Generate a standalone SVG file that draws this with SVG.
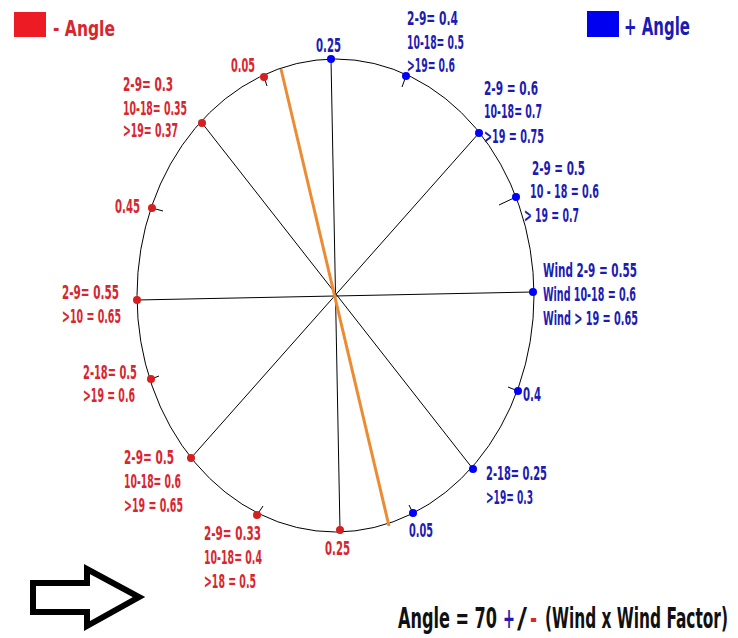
<svg xmlns="http://www.w3.org/2000/svg" width="738" height="638" viewBox="0 0 738 638">
<style>
text{font-family:"Liberation Sans Narrow","DejaVu Sans Condensed","Liberation Sans",sans-serif;font-weight:bold;font-size:19px}
.r{fill:#d8262e}.b{fill:#1c1cb4}.k{fill:#111}
.f{font-size:29px}
.rd{fill:#d42020}.bd{fill:#0000ff}
.sp{stroke:#000;stroke-width:1;fill:none}
.tk{stroke:#000;stroke-width:1}
</style>
<rect width="738" height="638" fill="#fff"/>
<g id="legend-minus"><rect x="14" y="12" width="32" height="25" fill="#ed1c24"/><text class="r" x="53" y="36" style="font-size:22px" textLength="62" lengthAdjust="spacingAndGlyphs">- Angle</text></g>
<g id="legend-plus"><rect x="587" y="11" width="32" height="26" fill="#0000f0"/><text class="b" x="624" y="35" style="font-size:25px" textLength="66" lengthAdjust="spacingAndGlyphs">+ Angle</text></g>
<ellipse cx="335.5" cy="295.5" rx="198.5" ry="236.5" class="sp"/>
<g id="connectors">
<line class="sp" x1="331" y1="59" x2="340" y2="530"/>
<line class="sp" x1="137" y1="300" x2="533" y2="292"/>
<line class="sp" x1="202" y1="123" x2="473" y2="469"/>
<line class="sp" x1="479" y1="133" x2="191" y2="458"/>
<line x1="281" y1="69" x2="389" y2="526" stroke="#ec8c32" stroke-width="3"/>
<line class="tk" x1="264" y1="77" x2="267" y2="86"/>
<line class="tk" x1="406" y1="76" x2="402" y2="87"/>
<line class="tk" x1="516" y1="197" x2="499" y2="205"/>
<line class="tk" x1="518" y1="391" x2="508" y2="387"/>
<line class="tk" x1="152" y1="208" x2="163" y2="211"/>
<line class="tk" x1="151" y1="379" x2="159" y2="376"/>
<line class="tk" x1="257" y1="515" x2="263" y2="506"/>
<line class="tk" x1="413" y1="513" x2="409" y2="505"/>
</g>
<g id="n-top"><circle class="bd" cx="331" cy="59" r="4"/><text class="b" x="316" y="52" textLength="25" lengthAdjust="spacingAndGlyphs">0.25</text></g>
<g id="n-r005"><circle class="rd" cx="264" cy="77" r="4"/><text class="r" x="231" y="72" textLength="24" lengthAdjust="spacingAndGlyphs">0.05</text></g>
<g id="n-r03"><circle class="rd" cx="202" cy="123" r="4"/>
<text class="r" x="123" y="91" textLength="50" lengthAdjust="spacingAndGlyphs">2-9= 0.3</text>
<text class="r" x="123" y="115" textLength="64" lengthAdjust="spacingAndGlyphs">10-18= 0.35</text>
<text class="r" x="123" y="137" textLength="55" lengthAdjust="spacingAndGlyphs">&gt;19= 0.37</text></g>
<g id="n-b04"><circle class="bd" cx="406" cy="76" r="4"/>
<text class="b" x="407" y="25" textLength="51" lengthAdjust="spacingAndGlyphs">2-9= 0.4</text>
<text class="b" x="407" y="49" textLength="57" lengthAdjust="spacingAndGlyphs">10-18= 0.5</text>
<text class="b" x="407" y="72" textLength="48" lengthAdjust="spacingAndGlyphs">&gt;19= 0.6</text></g>
<g id="n-b06"><circle class="bd" cx="479" cy="133" r="4"/>
<text class="b" x="484" y="95" textLength="54" lengthAdjust="spacingAndGlyphs">2-9 = 0.6</text>
<text class="b" x="484" y="118" textLength="58" lengthAdjust="spacingAndGlyphs">10-18= 0.7</text>
<text class="b" x="484" y="143" textLength="60" lengthAdjust="spacingAndGlyphs">&gt;19 = 0.75</text></g>
<g id="n-b05"><circle class="bd" cx="516" cy="197" r="4"/>
<text class="b" x="532" y="175" textLength="53" lengthAdjust="spacingAndGlyphs">2-9 = 0.5</text>
<text class="b" x="530" y="198" textLength="69" lengthAdjust="spacingAndGlyphs">10 - 18 = 0.6</text>
<text class="b" x="524" y="222" textLength="55" lengthAdjust="spacingAndGlyphs">&gt; 19 = 0.7</text></g>
<g id="n-wind"><circle class="bd" cx="533" cy="292" r="4"/>
<text class="b" x="543" y="277" textLength="94" lengthAdjust="spacingAndGlyphs">Wind 2-9 = 0.55</text>
<text class="b" x="543" y="301" textLength="93" lengthAdjust="spacingAndGlyphs">Wind 10-18 = 0.6</text>
<text class="b" x="543" y="325" textLength="95" lengthAdjust="spacingAndGlyphs">Wind &gt; 19 = 0.65</text></g>
<g id="n-b04b"><circle class="bd" cx="518" cy="391" r="4"/><text class="b" x="523" y="401" textLength="18" lengthAdjust="spacingAndGlyphs">0.4</text></g>
<g id="n-b025"><circle class="bd" cx="473" cy="469" r="4"/>
<text class="b" x="486" y="480" textLength="61" lengthAdjust="spacingAndGlyphs">2-18= 0.25</text>
<text class="b" x="486" y="504" textLength="47" lengthAdjust="spacingAndGlyphs">&gt;19= 0.3</text></g>
<g id="n-b005"><circle class="bd" cx="413" cy="513" r="4"/><text class="b" x="409" y="537" textLength="24" lengthAdjust="spacingAndGlyphs">0.05</text></g>
<g id="n-bottom"><circle class="rd" cx="340" cy="530" r="4"/><text class="r" x="325" y="555" textLength="25" lengthAdjust="spacingAndGlyphs">0.25</text></g>
<g id="n-r033"><circle class="rd" cx="257" cy="515" r="4"/>
<text class="r" x="204" y="540" textLength="57" lengthAdjust="spacingAndGlyphs">2-9= 0.33</text>
<text class="r" x="204" y="564" textLength="58" lengthAdjust="spacingAndGlyphs">10-18= 0.4</text>
<text class="r" x="204" y="588" textLength="52" lengthAdjust="spacingAndGlyphs">&gt;18 = 0.5</text></g>
<g id="n-r05"><circle class="rd" cx="191" cy="458" r="4"/>
<text class="r" x="124" y="464" textLength="50" lengthAdjust="spacingAndGlyphs">2-9= 0.5</text>
<text class="r" x="124" y="488" textLength="57" lengthAdjust="spacingAndGlyphs">10-18= 0.6</text>
<text class="r" x="124" y="512" textLength="59" lengthAdjust="spacingAndGlyphs">&gt;19 = 0.65</text></g>
<g id="n-r05b"><circle class="rd" cx="151" cy="379" r="4"/>
<text class="r" x="83" y="379" textLength="54" lengthAdjust="spacingAndGlyphs">2-18= 0.5</text>
<text class="r" x="83" y="402" textLength="52" lengthAdjust="spacingAndGlyphs">&gt;19 = 0.6</text></g>
<g id="n-r055"><circle class="rd" cx="137" cy="300" r="4"/>
<text class="r" x="62" y="299" textLength="57" lengthAdjust="spacingAndGlyphs">2-9= 0.55</text>
<text class="r" x="62" y="323" textLength="59" lengthAdjust="spacingAndGlyphs">&gt;10 = 0.65</text></g>
<g id="n-r045"><circle class="rd" cx="152" cy="208" r="4"/><text class="r" x="115" y="213" textLength="25" lengthAdjust="spacingAndGlyphs">0.45</text></g>
<g id="arrow"><polygon points="33,583 87,583 87,569 139,597 87,626 87,612 33,612" fill="none" stroke="#000" stroke-width="6" stroke-linejoin="miter"/></g>
<g id="formula">
<text class="k f" transform="translate(398,628) scale(0.6,1)" textLength="165" lengthAdjust="spacingAndGlyphs">Angle = 70</text>
<text class="b f" transform="translate(503,628) scale(0.6,1)" textLength="20" lengthAdjust="spacingAndGlyphs">+</text>
<text class="k f" transform="translate(517,628) scale(0.6,1)" textLength="16.7" lengthAdjust="spacingAndGlyphs">/</text>
<text class="r f" transform="translate(530,628) scale(0.6,1)" textLength="11.7" lengthAdjust="spacingAndGlyphs">-</text>
<text class="k f" transform="translate(545,628) scale(0.6,1)" textLength="305" lengthAdjust="spacingAndGlyphs">(Wind x Wind Factor)</text>
</g>
</svg>
